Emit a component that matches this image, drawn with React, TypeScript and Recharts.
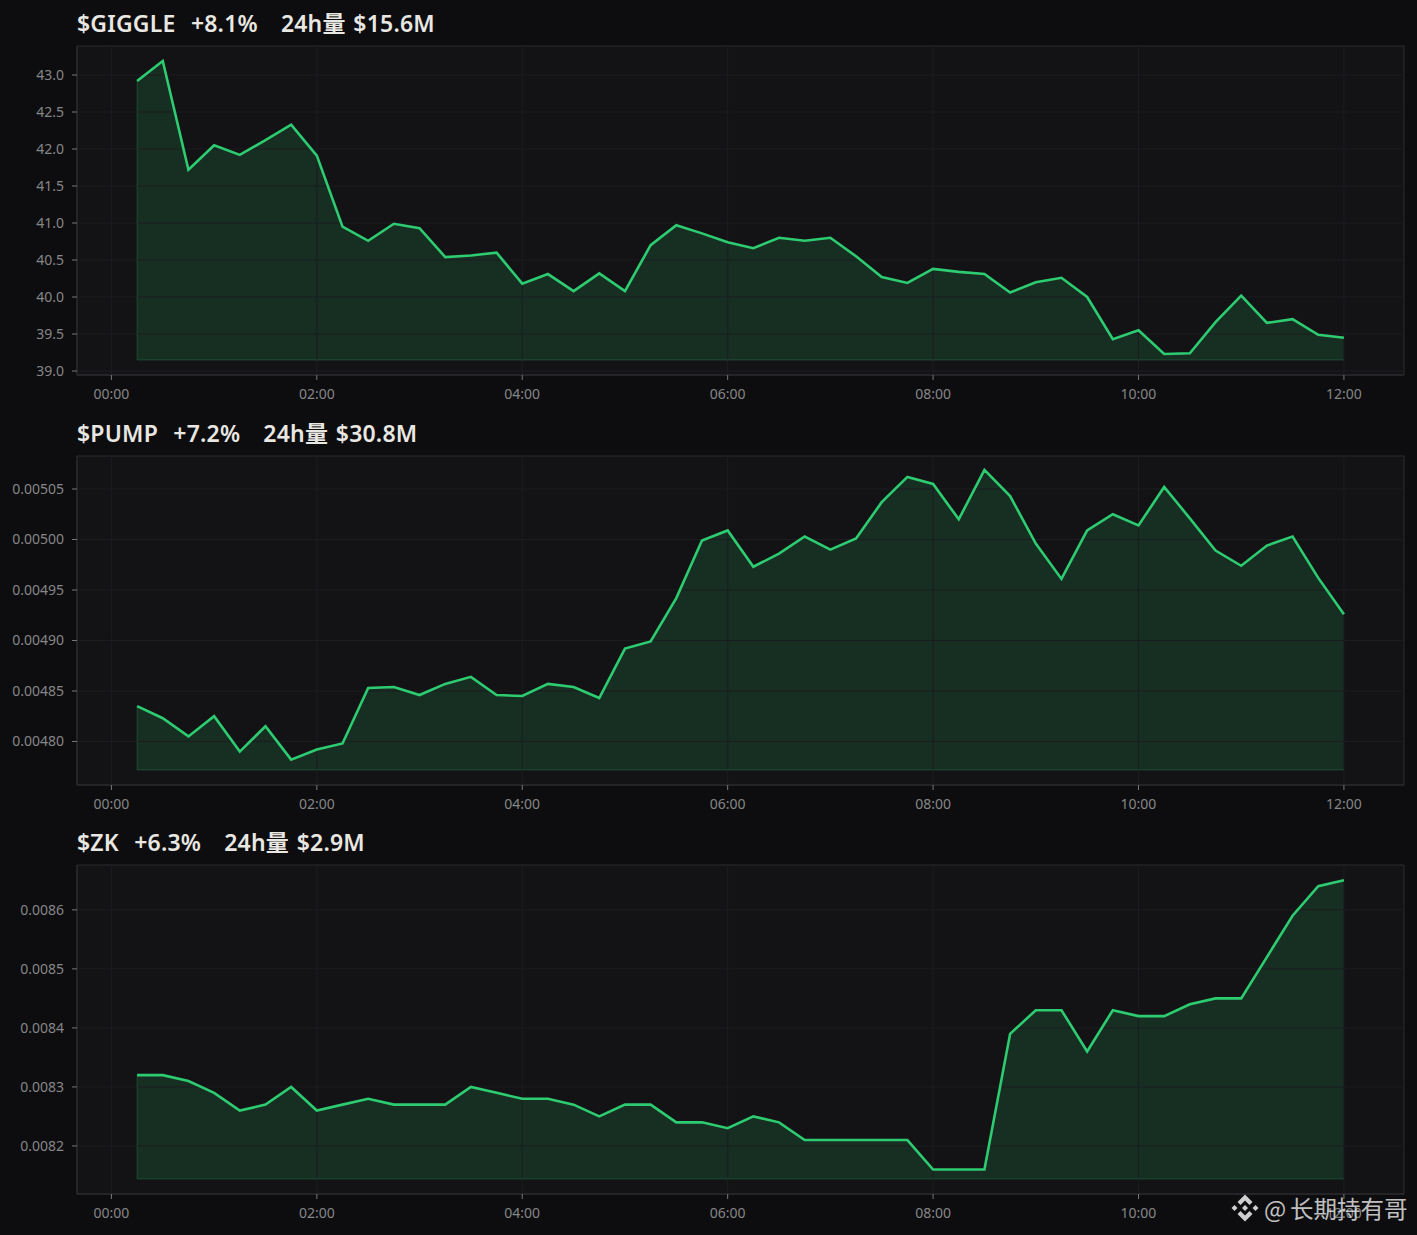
import {
  Area,
  CartesianGrid,
  ComposedChart,
  Line,
  ReferenceArea,
  ReferenceLine,
  XAxis,
  YAxis,
} from "recharts";

// minutes after 00:00, one sample every 15 minutes
const minutes = [
  15, 30, 45, 60, 75, 90, 105, 120, 135, 150, 165, 180, 195, 210, 225, 240,
  255, 270, 285, 300, 315, 330, 345, 360, 375, 390, 405, 420, 435, 450, 465, 480,
  495, 510, 525, 540, 555, 570, 585, 600, 615, 630, 645, 660, 675, 690, 705, 720,
];
const timeTicks = [0, 120, 240, 360, 480, 600, 720];

const giggle = [
  42.92, 43.19, 41.72, 42.05, 41.92, 42.12, 42.33, 41.91, 40.95, 40.76, 40.99, 40.93,
  40.54, 40.56, 40.6, 40.18, 40.31, 40.08, 40.32, 40.08, 40.7, 40.97, 40.86, 40.74,
  40.66, 40.8, 40.76, 40.8, 40.55, 40.27, 40.19, 40.38, 40.34, 40.31, 40.06, 40.2,
  40.26, 40.0, 39.43, 39.55, 39.23, 39.24, 39.66, 40.02, 39.65, 39.7, 39.49, 39.45,
];
const pump = [
  0.004835, 0.004823, 0.004805, 0.004825, 0.00479, 0.004815, 0.004782, 0.004792,
  0.004798, 0.004853, 0.004854, 0.004846, 0.004857, 0.004864, 0.004846, 0.004845,
  0.004857, 0.004854, 0.004843, 0.004892, 0.004899, 0.004942, 0.004999, 0.005009,
  0.004973, 0.004986, 0.005003, 0.00499, 0.005001, 0.005037, 0.005062, 0.005055,
  0.00502, 0.005069, 0.005043, 0.004996, 0.004961, 0.005009, 0.005025, 0.005014,
  0.005052, 0.005021, 0.004989, 0.004974, 0.004994, 0.005003, 0.004962, 0.004926,
];
const zk = [
  0.00832, 0.00832, 0.00831, 0.00829, 0.00826, 0.00827, 0.0083, 0.00826,
  0.00827, 0.00828, 0.00827, 0.00827, 0.00827, 0.0083, 0.00829, 0.00828,
  0.00828, 0.00827, 0.00825, 0.00827, 0.00827, 0.00824, 0.00824, 0.00823,
  0.00825, 0.00824, 0.00821, 0.00821, 0.00821, 0.00821, 0.00821, 0.00816,
  0.00816, 0.00816, 0.00839, 0.00843, 0.00843, 0.00836, 0.00843, 0.00842,
  0.00842, 0.00844, 0.00845, 0.00845, 0.00852, 0.00859, 0.00864, 0.00865,
];

const giggleTicks = [39, 39.5, 40, 40.5, 41, 41.5, 42, 42.5, 43];
const pumpTicks = [0.0048, 0.00485, 0.0049, 0.00495, 0.005, 0.00505];
const zkTicks = [0.0082, 0.0083, 0.0084, 0.0085, 0.0086];

const X_DOMAIN: [number, number] = [-20.1, 755.1];
const LINE = "#2ecc71";
const GRID = "#1c1d20";
const FONT = '"Noto Sans", "Noto Sans CJK SC", sans-serif';

const toTime = (m: number) =>
  `${String(Math.floor(m / 60)).padStart(2, "0")}:${String(m % 60).padStart(2, "0")}`;

function Panel({
  top,
  title,
  values,
  yTicks,
  yDomain,
  base,
  digits,
}: {
  top: number;
  title: string;
  values: number[];
  yTicks: number[];
  yDomain: [number, number];
  base: number;
  digits: number;
}) {
  const data = minutes.map((t, i) => ({ t, v: values[i] }));
  const edge = "rgba(46,204,113,0.24)";
  return (
    <div style={{ position: "absolute", left: 0, top, width: 1417, height: 409 }}>
      <ComposedChart
        width={1417}
        height={409}
        data={data}
        margin={{ top: 46, right: 13, bottom: 0, left: 0 }}
      >
        <CartesianGrid horizontal={false} vertical={false} fill="#131316" />
        <XAxis
          dataKey="t"
          type="number"
          domain={X_DOMAIN}
          allowDataOverflow
          ticks={timeTicks}
          tickFormatter={toTime}
          height={34}
          interval={0}
          tickSize={5}
          tickMargin={9}
          axisLine={{ stroke: "#2c2d30" }}
          tickLine={{ stroke: "#77787a" }}
          tick={{ fill: "#858687", fontSize: 14 }}
        />
        <YAxis
          type="number"
          domain={yDomain}
          allowDataOverflow
          ticks={yTicks}
          tickFormatter={(v: number) => v.toFixed(digits)}
          width={77}
          interval={0}
          tickSize={5}
          tickMargin={8}
          axisLine={{ stroke: "#2c2d30" }}
          tickLine={{ stroke: "#77787a" }}
          tick={{ fill: "#858687", fontSize: 14 }}
        />
        <ReferenceArea
          x1={X_DOMAIN[0]}
          x2={X_DOMAIN[1]}
          y1={yDomain[0]}
          y2={yDomain[1]}
          fill="none"
          stroke="#2c2d30"
          ifOverflow="visible"
        />
        <Area
          dataKey="v"
          type="linear"
          baseValue={base}
          stroke="none"
          fill={LINE}
          fillOpacity={0.15}
          isAnimationActive={false}
        />
        {/* the grid also shows across the filled area */}
        {yTicks.map((y) => (
          <ReferenceLine key={y} y={y} stroke={GRID} />
        ))}
        {timeTicks.map((x) => (
          <ReferenceLine key={x} x={x} stroke={GRID} />
        ))}
        <ReferenceLine
          segment={[
            { x: 15, y: base },
            { x: 720, y: base },
          ]}
          stroke={edge}
        />
        <ReferenceLine
          segment={[
            { x: 15, y: base },
            { x: 15, y: values[0] },
          ]}
          stroke={edge}
        />
        <Line
          dataKey="v"
          type="linear"
          stroke={LINE}
          strokeWidth={2.6}
          dot={false}
          activeDot={false}
          isAnimationActive={false}
        />
      </ComposedChart>
      <div
        style={{
          position: "absolute",
          left: 77,
          top: 6,
          fontSize: 23,
          lineHeight: "34px",
          fontWeight: 600,
          letterSpacing: 0.2,
          wordSpacing: 1.5,
          color: "#e9e7e2",
          whiteSpace: "pre",
        }}
      >
        {title}
      </div>
    </div>
  );
}

export default function App() {
  return (
    <div
      style={{
        position: "absolute",
        left: 0,
        top: 0,
        width: 1417,
        height: 1235,
        background: "#0d0d0f",
        fontFamily: FONT,
        overflow: "hidden",
      }}
    >
      <Panel
        top={0}
        title="$GIGGLE  +8.1%   24h量 $15.6M"
        values={giggle}
        yTicks={giggleTicks}
        yDomain={[38.946, 43.392]}
        base={39.149}
        digits={1}
      />
      <Panel
        top={410}
        title="$PUMP  +7.2%   24h量 $30.8M"
        values={pump}
        yTicks={pumpTicks}
        yDomain={[0.0047569, 0.0050827]}
        base={0.0047718}
        digits={5}
      />
      <Panel
        top={819}
        title="$ZK  +6.3%   24h量 $2.9M"
        values={zk}
        yTicks={zkTicks}
        yDomain={[0.0081186, 0.008676]}
        base={0.008144}
        digits={4}
      />
      {/* watermark sits over the last tick label */}
      <svg
        width={28}
        height={28}
        viewBox="0 0 28 28"
        style={{ position: "absolute", left: 1231, top: 1194 }}
      >
        <g fill="#cfcfcf">
          <path d="M14 0.5 L21.5 8 L18.5 11 L14 6.5 L9.5 11 L6.5 8 Z" />
          <path d="M14 27.5 L21.5 20 L18.5 17 L14 21.5 L9.5 17 L6.5 20 Z" />
          <path d="M0.5 14 L3.5 11 L6.5 14 L3.5 17 Z" />
          <path d="M21.5 14 L24.5 11 L27.5 14 L24.5 17 Z" />
          <path d="M14 11 L17 14 L14 17 L11 14 Z" />
        </g>
      </svg>
      <div
        style={{
          position: "absolute",
          left: 1264,
          top: 1190,
          fontFamily: '"Noto Sans CJK SC", "Noto Sans", sans-serif',
          fontSize: 23.5,
          lineHeight: "36px",
          wordSpacing: -1.5,
          color: "rgba(225,225,225,0.86)",
          whiteSpace: "pre",
        }}
      >
        @ 长期持有哥
      </div>
    </div>
  );
}
